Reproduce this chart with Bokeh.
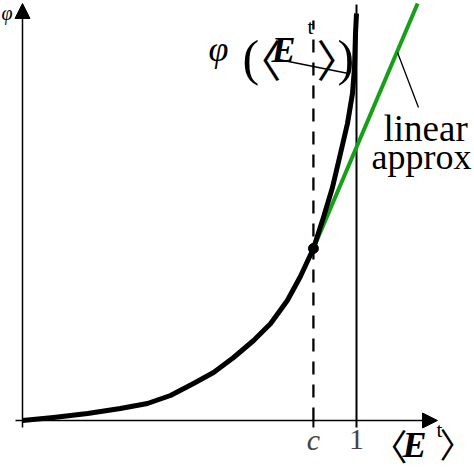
from bokeh.plotting import figure
from bokeh.models import Range1d, Arrow, NormalHead, Label
from bokeh.embed import file_html
from bokeh.resources import INLINE

# phi(<E^t>) (x: <E^t>, y: phi, arbitrary units)
curve_x = [0.0, 0.093, 0.195, 0.293, 0.374, 0.443, 0.512, 0.572, 0.632, 0.692,
           0.743, 0.793, 0.832, 0.871, 0.901, 0.928, 0.952, 0.973, 0.988,
           0.994, 0.997, 1.0]
curve_y = [0.0, 0.03, 0.07, 0.12, 0.17, 0.25, 0.37, 0.48, 0.63, 0.80,
           0.97, 1.20, 1.44, 1.72, 2.03, 2.33, 2.67, 2.97, 3.27,
           3.53, 3.87, 4.07]

c_val = 0.871
phi_c = 1.72
lin_x = [0.871, 1.183]
lin_y = [1.72, 4.17]

tick_labels = ["c", "1"]
tick_pos = [c_val, 1.0]

SERIF = "Liberation Serif"
BRACKET = "Noto Sans CJK JP"
SHIFT = 9  # svg text sits a bit below its baseline, lift it


# reference pixel -> data (used for label placement only)
def X(px):
    return (px - 22) / 334.0


def Y(py):
    return (420 - py) / 100.0


p = figure(width=474, height=474, output_backend="svg", toolbar_location=None,
           x_range=Range1d(X(0), X(474)), y_range=Range1d(Y(474), Y(0)),
           x_axis_location=None, y_axis_location=None, min_border=0)
p.grid.visible = False
p.outline_line_color = None

# axes with arrow heads
p.add_layout(Arrow(end=NormalHead(size=15, fill_color="black", line_color="black"),
                   x_start=X(15), y_start=0, x_end=X(437), y_end=0,
                   line_width=1.5, line_color="black"))
p.add_layout(Arrow(end=NormalHead(size=15, fill_color="black", line_color="black"),
                   x_start=0, y_start=Y(427), x_end=0, y_end=Y(3),
                   line_width=1.5, line_color="black"))

# vertical line at 1 and dashed line at c
p.segment(x0=[1.0], y0=[Y(427)], x1=[1.0], y1=[Y(4)], line_width=2, line_color="black")
p.segment(x0=[c_val], y0=[Y(427)], x1=[c_val], y1=[0], line_width=2, line_color="black")
p.segment(x0=[c_val], y0=[0], x1=[c_val], y1=[Y(20)], line_width=2.3,
          line_color="black", line_dash="13 10")

# curve and linear approximation
p.line(lin_x, lin_y, line_width=4, line_color="#17a017")
p.line(curve_x, curve_y, line_width=5, line_color="black", line_join="round")
p.scatter([c_val], [phi_c], size=10, color="black")

# leader lines
p.segment(x0=[X(278)], y0=[Y(59)], x1=[X(348)], y1=[Y(73)], line_width=1.3, line_color="black")
p.segment(x0=[X(397)], y0=[Y(52)], x1=[X(418)], y1=[Y(107)], line_width=1.3, line_color="black")


def lab(px, py, text, size, style="normal", align="left", font=SERIF):
    p.add_layout(Label(x=X(px), y=Y(py - SHIFT), text=text, text_font=font,
                       text_font_size=f"{size}px", text_font_style=style,
                       text_align=align, text_baseline="alphabetic",
                       text_color="black"))


# phi(<E^t>) label
lab(208, 57, "φ", 36, "italic")
lab(242, 66, "(", 50)
lab(237, 66, "〈", 44, font=BRACKET)
lab(271, 58, "E", 36, "bold italic")
lab(307, 35, "t", 21)
lab(316, 66, "〉", 44, font=BRACKET)
lab(337, 66, ")", 50)

# linear approx label
lab(383, 137, "linear", 37)
lab(371, 165, "approx", 36)

# tick labels
for t, xv in zip(tick_labels, tick_pos):
    p.add_layout(Label(x=xv, y=Y(448 - SHIFT), text=t, text_font=SERIF,
                       text_font_size="30px",
                       text_font_style="italic" if t == "c" else "normal",
                       text_align="center", text_baseline="alphabetic"))

# x axis label <E^t>
lab(371, 453, "〈", 36, font=BRACKET)
lab(402, 453, "E", 36, "bold italic")
lab(436, 438, "t", 21)
lab(439, 452, "〉", 34, font=BRACKET)

# y axis label at the top left corner
lab(1, 21, "φ", 20, "italic")

open("out.html", "w").write(file_html(p, INLINE))
